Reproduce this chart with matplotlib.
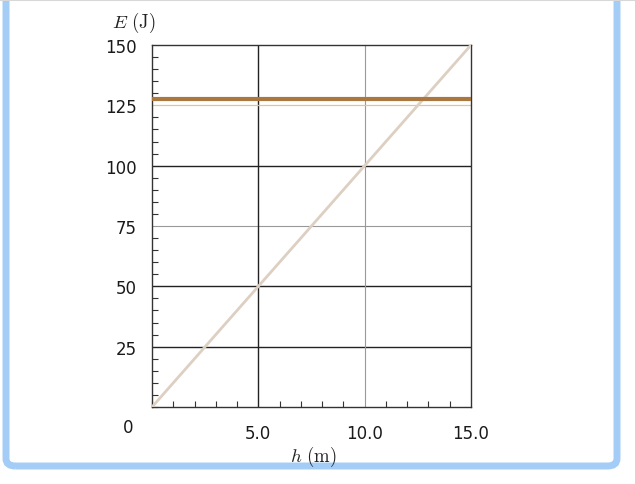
import matplotlib
matplotlib.use("Agg")
import matplotlib.pyplot as plt
from matplotlib.patches import FancyBboxPatch
from matplotlib.ticker import MultipleLocator, FixedLocator

# data
h_line = [0.0, 15.0]
pe_line = [0.0, 150.0]
total_energy = 127.5
ref_level = 125.0
x_ticks = [5.0, 10.0, 15.0]
x_tick_labels = ["5.0", "10.0", "15.0"]
y_ticks = [25, 50, 75, 100, 125, 150]
dark_grid_y = [25, 50, 100]
light_grid_y = [75]
dark_grid_x = [5.0]
light_grid_x = [10.0]

plt.rcParams["mathtext.fontset"] = "cm"

fig = plt.figure(figsize=(6.35, 4.85), dpi=100)

# rounded blue frame around the card
frame = FancyBboxPatch((6 / 635, 18 / 485), 611 / 635, 500 / 485,
                       boxstyle="round,pad=0,rounding_size=0.015",
                       transform=fig.transFigure, facecolor="none",
                       edgecolor="#a3cdf6", linewidth=5, zorder=0)
fig.patches.append(frame)
fig.add_artist(plt.Line2D([0, 1], [1 - 1 / 485, 1 - 1 / 485],
                          transform=fig.transFigure, color="#d8d8d8", lw=1.5))

ax = fig.add_axes([152 / 635, 1 - 408 / 485, 319 / 635, 362 / 485])
ax.set_xlim(0, 15)
ax.set_ylim(0, 150)

# grid lines
for y in dark_grid_y:
    ax.axhline(y, color="#222222", lw=1.0, zorder=1)
for y in light_grid_y:
    ax.axhline(y, color="#999999", lw=0.8, zorder=1)
for x in dark_grid_x:
    ax.axvline(x, color="#222222", lw=1.0, zorder=1)
for x in light_grid_x:
    ax.axvline(x, color="#999999", lw=0.8, zorder=1)
ax.axhline(ref_level, color="#e8c09a", lw=0.9, zorder=2)

# energy lines
ax.plot(h_line, pe_line, color="#ddd0c2", lw=2.0, zorder=3)
ax.axhline(total_energy, color="#a9773f", lw=3.0, zorder=4)

for s in ax.spines.values():
    s.set_color("#333333")
    s.set_linewidth(1.0)

ax.xaxis.set_major_locator(FixedLocator(x_ticks))
ax.set_xticklabels(x_tick_labels)
ax.yaxis.set_major_locator(FixedLocator(y_ticks))
ax.set_yticklabels([str(v) for v in y_ticks])
ax.xaxis.set_minor_locator(MultipleLocator(1.0))
ax.yaxis.set_minor_locator(MultipleLocator(5))
ax.tick_params(axis="both", which="both", direction="in", color="#333333")
ax.tick_params(axis="both", which="major", length=0, labelsize=12,
               labelcolor="#1a1a1a")
ax.tick_params(axis="both", which="minor", length=4, width=0.8)
ax.tick_params(axis="x", which="major", pad=12)
ax.tick_params(axis="y", which="major", pad=11)

fig.text(128 / 635, 1 - 428 / 485, "0", fontsize=12, color="#1a1a1a",
         ha="center", va="center")
fig.text(134 / 635, 1 - 23 / 485, r"$E\ (\mathrm{J})$", fontsize=13.5,
         color="#222222", ha="center", va="center")
fig.text(313 / 635, 1 - 457 / 485, r"$h\ (\mathrm{m})$", fontsize=13.5,
         color="#222222", ha="center", va="center")

fig.savefig("out.png", dpi=100)
